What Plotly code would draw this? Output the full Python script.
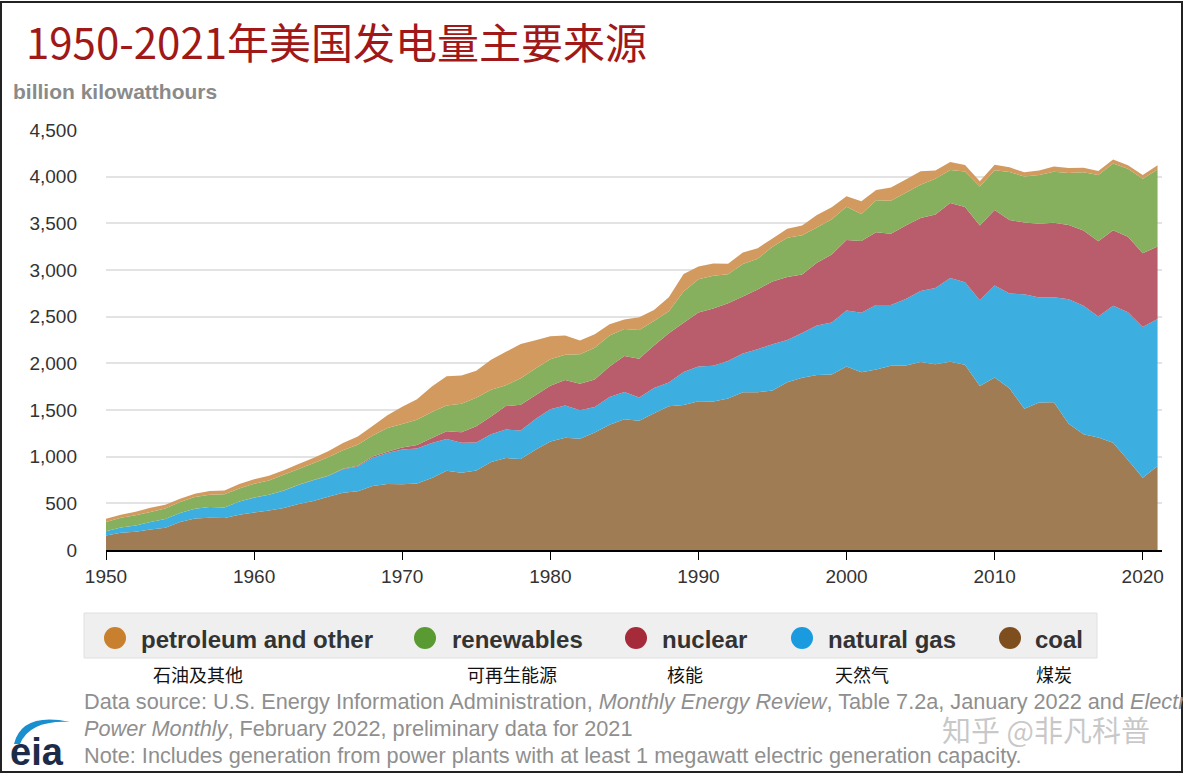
import plotly.graph_objects as go

years = list(range(1950, 2022))
coal = [155,185,195,219,239,301,338,346,344,378,403,422,450,494,526,571,613,630,685,706,704,713,771,848,828,853,944,985,976,1075,1162,1203,1192,1259,1342,1402,1386,1464,1541,1554,1594,1592,1622,1690,1691,1709,1796,1845,1874,1881,1966,1904,1933,1974,1978,2013,1991,2016,1986,1756,1847,1733,1514,1581,1582,1352,1239,1206,1149,965,773,899]
natural_gas = [45,57,68,80,93,95,104,114,111,141,158,169,184,202,221,222,251,265,304,333,373,374,376,341,320,300,295,306,305,329,346,346,305,274,297,292,249,273,253,352,373,382,404,415,461,496,455,479,531,556,601,639,691,650,710,761,816,897,883,921,988,1014,1226,1125,1127,1334,1379,1297,1469,1582,1617,1575]
nuclear = [0,0,0,0,0,0,0,0.01,0.2,0.2,0.5,1.7,2.3,3,3.3,3.7,5.5,7.7,12.5,13.9,21.8,38,54,83,114,173,191,251,276,255,251,273,283,294,328,384,414,455,527,529,577,613,619,610,640,673,675,629,674,728,754,769,780,764,789,782,787,806,806,799,807,790,769,789,797,797,806,805,807,809,790,778]
renewables = [101,104,110,109,112,117,125,132,142,141,149,153,170,168,178,196,198,225,224,254,251,270,277,275,306,305,288,224,284,285,285,270,318,340,331,291,307,262,237,335,357,352,310,349,329,371,419,418,377,378,357,287,343,355,351,358,385,352,381,418,427,513,494,522,546,556,624,709,716,728,797,826]
petroleum_other = [34,33,38,44,42,37,36,40,41,47,48,49,49,54,58,65,79,89,104,138,184,220,274,314,301,289,320,358,365,303,246,206,147,144,120,100,137,118,149,188,136,131,113,123,113,88,98,107,134,128,113,138,111,140,142,143,86,87,70,57,60,50,45,50,57,55,48,45,42,38,40,44]

series_names = ["coal", "natural gas", "nuclear", "renewables", "petroleum and other"]
series_cn = ["煤炭", "天然气", "核能", "可再生能源", "石油及其他"]
fills = ["#a07c55", "#3caee0", "#b95c6c", "#86b05e", "#d39a5f"]
markers = ["#7e4e1e", "#1a9be0", "#a52a3a", "#5a9a32", "#c8802e"]
values = [coal, natural_gas, nuclear, renewables, petroleum_other]

fig = go.Figure()
for n, v, c in zip(series_names, values, fills):
    fig.add_trace(go.Scatter(x=years, y=v, name=n, stackgroup="one", mode="none",
                             fillcolor=c, line=dict(width=0), showlegend=False))

W, H = 1183, 774
L, R, T, B = 106, 1162, 130, 550
def px(x): return (x - L) / (R - L)
def py(y): return (B - y) / (B - T)

fig.update_layout(
    width=W, height=H, margin=dict(l=L, r=W - R, t=T, b=H - B),
    paper_bgcolor="white", plot_bgcolor="white",
    font=dict(family="Liberation Sans, Arial", color="#333"),
    xaxis=dict(range=[1950, 2021.3], tickvals=list(range(1950, 2021, 10)), ticks="outside",
               ticklen=8, tickcolor="#000", showline=True, linecolor="#000", linewidth=1.5,
               showgrid=False, tickfont=dict(size=19, color="#333"), zeroline=False),
    yaxis=dict(range=[0, 4500], tickvals=list(range(0, 4501, 500)), tickformat=",",
               gridcolor="#e3e3e3", gridwidth=1.5, tickfont=dict(size=19, color="#333"),
               zeroline=False, ticks="", ticklabelstandoff=28),
)

ann = []
shapes = []
def A(text, x, y, size, color, xanchor="left", family=None):
    f = dict(size=size, color=color)
    if family:
        f["family"] = family
    ann.append(dict(text=text, x=px(x), y=py(y), xref="paper", yref="paper", xanchor=xanchor,
                    yanchor="middle", font=f, showarrow=False))

A("1950-2021年美国发电量主要来源", 24, 40, 42, "#a01818", family="Noto Sans CJK SC")
A("<b>billion kilowatthours</b>", 11, 91, 21, "#8a8a8a")
shapes.append(dict(type="rect", xref="paper", yref="paper", x0=px(84), x1=px(1097), y0=py(658), y1=py(613),
                   fillcolor="#efefef", line=dict(color="#e0e0e0", width=1), layer="below"))
leg_pos = {"petroleum and other": (115, 139, 198), "renewables": (425, 450, 512),
           "nuclear": (636, 660, 685), "natural gas": (802, 826, 862), "coal": (1010, 1033, 1054)}
for n, cn, m in zip(series_names, series_cn, markers):
    cx, tx, cnx = leg_pos[n]
    shapes.append(dict(type="circle", xref="paper", yref="paper", x0=px(cx - 11), x1=px(cx + 11),
                       y0=py(649), y1=py(627), fillcolor=m, line=dict(width=0)))
    A("<b>" + n + "</b>", tx, 639, 24, "#333")
    A(cn, cnx, 674, 18, "#111", xanchor="center", family="Noto Sans CJK SC")
src = ["Data source: U.S. Energy Information Administration, <i>Monthly Energy Review</i>, Table 7.2a, January 2022 and <i>Electric</i>",
       "<i>Power Monthly</i>, February 2022, preliminary data for 2021",
       "Note: Includes generation from power plants with at least 1 megawatt electric generation capacity."]
for i, s in enumerate(src):
    A(s, 82, 701 + 27 * i, 21.7, "#8f8f8f")
A("<b>eia</b>", 8, 752, 38, "#1c2c48")
shapes.append(dict(type="path", xref="paper", yref="paper",
                   path=f"M {px(14)},{py(744)} Q {px(22)},{py(712)} {px(70)},{py(722)} Q {px(30)},{py(720)} {px(20)},{py(744)} Z",
                   fillcolor="#1a8fd0", line=dict(width=0)))
A("知乎 @非凡科普", 1152, 729, 29, "rgba(190,190,190,0.85)", xanchor="right", family="Noto Sans CJK SC")
shapes.append(dict(type="rect", xref="paper", yref="paper", x0=px(1), x1=px(1182), y0=py(772), y1=py(2),
                   line=dict(color="#222", width=2), fillcolor="rgba(0,0,0,0)"))
fig.update_layout(annotations=ann, shapes=shapes)
fig.write_html("out.html", config={"displayModeBar": False},
               post_script="document.body.style.margin='0';document.body.style.overflow='hidden';")
